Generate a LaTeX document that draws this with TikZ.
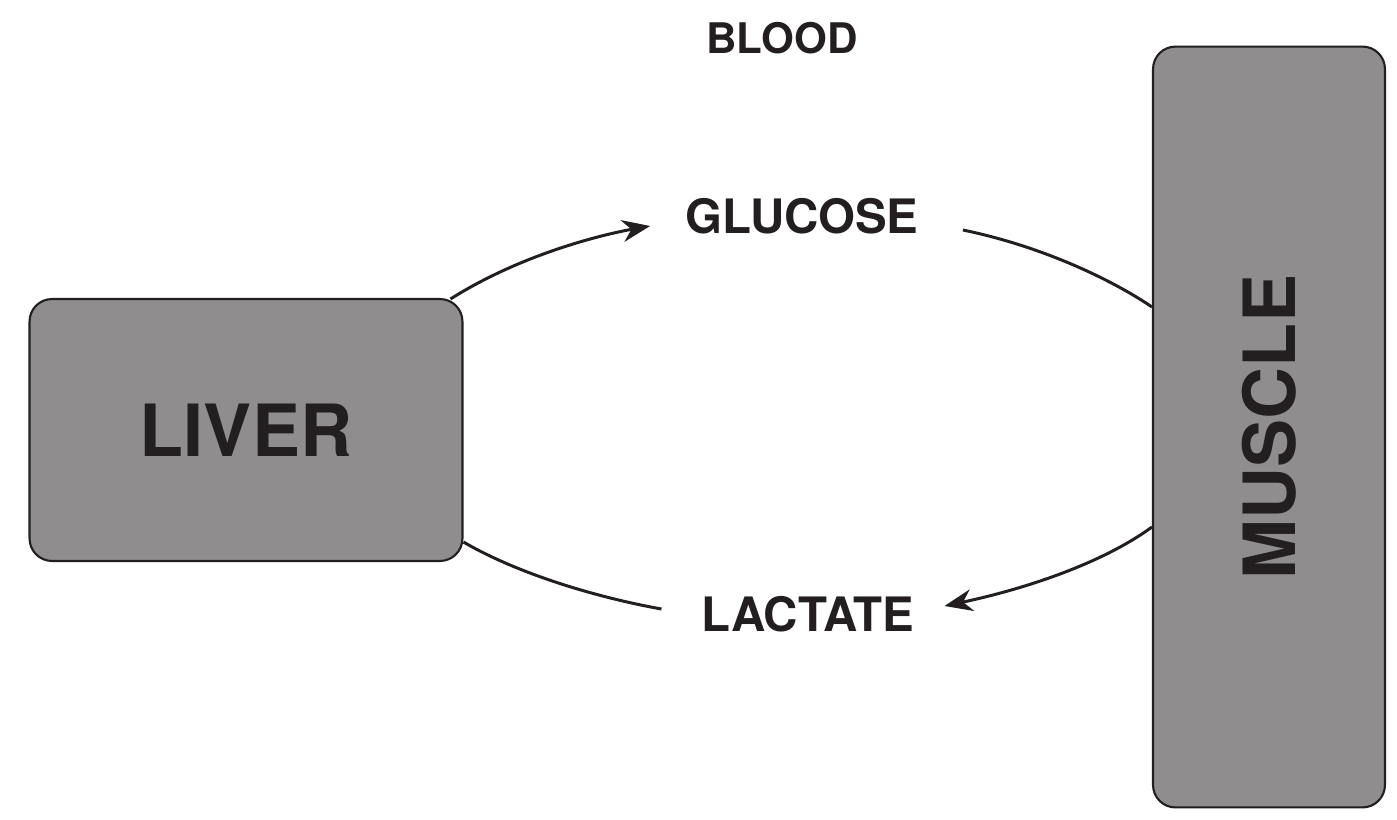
\documentclass[tikz,border=0pt]{standalone}
\usepackage{fontspec}
\setmainfont{TeX Gyre Heros}
\usetikzlibrary{arrows.meta,calc}
\definecolor{organgray}{HTML}{8F8D8E}
\definecolor{inkdark}{HTML}{231F20}
\tikzset{
  organ/.style={rectangle, rounded corners=0.45cm, draw=inkdark, line width=1.2pt, fill=organgray, font=\bfseries\fontsize{41}{41}\selectfont, text=inkdark},
  metab/.style={inner xsep=0.7cm, inner ysep=0pt, font=\bfseries\fontsize{27}{27}\selectfont, text=inkdark},
  flow/.style={draw=inkdark, line width=1.7pt},
  flowarrow/.style={flow, -{Stealth[length=0.56cm,width=0.44cm]}}
}
\begin{document}
\begin{tikzpicture}[x=0.02cm,y=-0.02cm]
\useasboundingbox (0,0) rectangle (1397,819);
% organs
\node[organ, minimum width=8.66cm, minimum height=5.24cm] (liver) at (246,430) {LIVER};
\node[organ, minimum width=4.64cm, minimum height=15.22cm] (muscle) at (1269,427) {};
\node[font=\bfseries\fontsize{41}{41}\selectfont, text=inkdark, rotate=90] (musclelabel) at (muscle) {MUSCLE};
% blood metabolites
\node[font=\bfseries\fontsize{24}{24}\selectfont, text=inkdark] (blood) at (782,38) {BLOOD};
\node[metab] (glucose) at (802,216) {GLUCOSE};
\node[metab] (lactate) at (808,614) {LACTATE};
% cycle
\draw[flowarrow] ($(liver.north east)+(-13,1)$) .. controls (520,255) and (600,235) .. ($(glucose.west)+(0,10)$);
\draw[flow] ($(glucose.east)+(9,14)$) .. controls (1050,248) and (1120,285) .. ($(muscle.west)+(0,-120)$);
\draw[flowarrow] ($(muscle.west)+(0,100)$) .. controls (1100,565) and (1020,590) .. ($(lactate.east)+(-5,-8)$);
\draw[flow] ($(liver.south east)+(0,-20)$) .. controls (520,575) and (600,598) .. ($(lactate.west)+(-5,-5)$);
\end{tikzpicture}
\end{document}
